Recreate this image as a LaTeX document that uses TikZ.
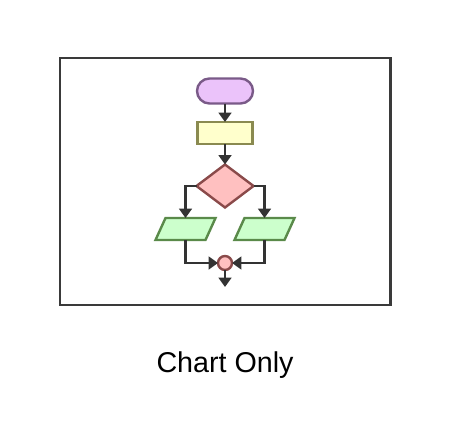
\documentclass[tikz,border=0pt]{standalone}
\usepackage{fontspec}
\setmainfont{Liberation Sans}
\usetikzlibrary{arrows.meta,shapes.geometric}
\definecolor{frameC}{HTML}{3A3A3A}
\definecolor{lineC}{HTML}{333333}
\definecolor{termF}{HTML}{EBC3FA}
\definecolor{termD}{HTML}{7A5A88}
\definecolor{procF}{HTML}{FFFFCC}
\definecolor{procD}{HTML}{8A8A50}
\definecolor{decF}{HTML}{FFC0C0}
\definecolor{decD}{HTML}{8A4A4A}
\definecolor{ioF}{HTML}{CCFFCC}
\definecolor{ioD}{HTML}{5A8A4A}
\tikzset{
  shapebase/.style={line width=1.8pt, inner sep=0pt, outer sep=0pt},
  terminal/.style={shapebase, rectangle, rounded corners=9.4pt, draw=termD, fill=termF, minimum width=42pt, minimum height=18.75pt},
  process/.style={shapebase, rectangle, draw=procD, fill=procF, minimum width=41.25pt, minimum height=16.5pt},
  decision/.style={shapebase, diamond, draw=decD, fill=decF, minimum width=42.75pt, minimum height=32.25pt},
  iobox/.style={shapebase, rectangle, minimum width=45pt, minimum height=16.5pt},
  ioshape/.style={line width=1.8pt, draw=ioD, fill=ioF, line join=miter},
  joinpt/.style={shapebase, circle, draw=decD, fill=decF, minimum size=10.5pt},
  conn/.style={draw=lineC, line width=1.9pt, -{Triangle[width=9.5pt,length=7pt]}},
}
\begin{document}
\begin{tikzpicture}[x=0.75pt,y=-0.75pt]
\useasboundingbox (0,0) rectangle (474,443);
\draw[frameC, line width=1.9pt] (60,58) rectangle (390.5,305);
\node[terminal] (start) at (225,91) {};
\node[process] (proc) at (225,133) {};
\node[decision] (dec) at (225,186) {};
\node[iobox] (inL) at (185.5,229) {};
\node[iobox] (inR) at (264.5,229) {};
\draw[ioshape] (inL.south west) -- ([xshift=-7.5pt]inL.south east) -- (inL.north east) -- ([xshift=7.5pt]inL.north west) -- cycle;
\draw[ioshape] (inR.south west) -- ([xshift=-7.5pt]inR.south east) -- (inR.north east) -- ([xshift=7.5pt]inR.north west) -- cycle;
\node[joinpt] (join) at (225,263) {};
\coordinate (endpt) at (225,287);
\draw[conn] (start) -- (proc);
\draw[conn] (proc) -- (dec);
\draw[conn] (dec.west) -| (inL.north);
\draw[conn] (dec.east) -| (inR.north);
\draw[conn] (inL.south) |- (join.west);
\draw[conn] (inR.south) |- (join.east);
\draw[conn] (join.south) -- (endpt);
\node[anchor=base, font=\fontsize{21.5pt}{26pt}\selectfont, text=black] (title) at (225,372) {Chart Only};
\end{tikzpicture}
\end{document}
